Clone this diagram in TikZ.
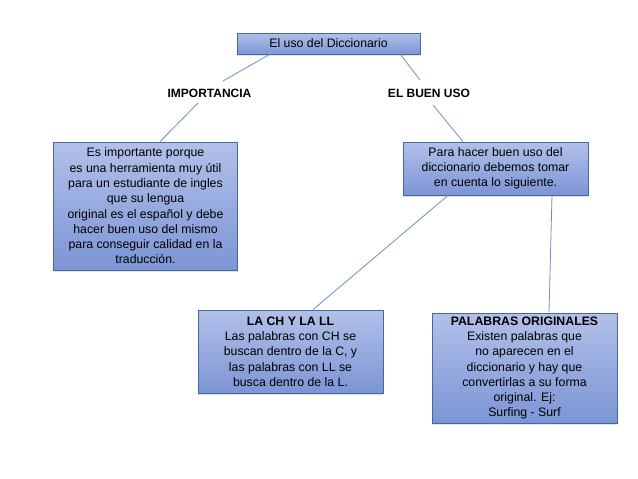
\documentclass[tikz,border=0pt]{standalone}
\usepackage{fontspec}
\setmainfont{Liberation Sans}
\usetikzlibrary{calc,shadows}
\definecolor{boxtop}{RGB}{178,192,233}
\definecolor{boxbot}{RGB}{124,149,213}
\definecolor{boxborder}{RGB}{72,102,160}
\definecolor{linkcol}{RGB}{105,145,195}
\begin{document}
\begin{tikzpicture}[x=1pt,y=-1pt,
  box/.style={rectangle, draw=boxborder, line width=0.8pt, top color=boxtop, bottom color=boxbot,
    align=center, inner sep=0pt, font=\fontsize{12.3}{15.3}\selectfont,
    drop shadow={shadow xshift=0pt, shadow yshift=-2pt, opacity=0.12, fill=black}},
  lbl/.style={font=\bfseries\fontsize{12}{14}\selectfont, inner sep=0pt},
  link/.style={draw=linkcol, line width=0.8pt}]
\useasboundingbox (0,0) rectangle (638,479);

\node[box, minimum width=183pt, minimum height=21pt] (title) at (328.5,43.5) {El uso del Diccionario};
\node[lbl] (imp) at (209.5,93.5) {IMPORTANCIA};
\node[lbl] (buen) at (429,93) {EL BUEN USO};

\node[box, minimum width=184pt, minimum height=128pt] (left) at (145.5,206)
  {Es importante porque\\es una herramienta muy útil\\para un estudiante de ingles\\que su lengua\\original es el español y debe\\hacer buen uso del mismo\\para conseguir calidad en la\\traducción.};
\node[box, minimum width=185pt, minimum height=53pt] (right) at (495.5,168.5)
  {Para hacer buen uso del\\diccionario debemos tomar\\en cuenta lo siguiente.};
\node[box, minimum width=185pt, minimum height=83pt] (lach) at (290.5,351.5)
  {\textbf{LA CH Y LA LL}\\Las palabras con CH se\\buscan dentro de la C, y\\las palabras con LL se\\busca dentro de la L.};
\node[box, minimum width=185pt, minimum height=110pt] (pal) at (524.5,368)
  {\textbf{PALABRAS ORIGINALES}\\Existen palabras que\\no aparecen en el\\diccionario y hay que\\convertirlas a su forma\\original. Ej:\\Surfing - Surf};

\draw[link] ($(title.south west)+(33,0)$) -- ($(imp.center)+(13.5,-12.5)$);
\draw[link] ($(imp.center)+(-11.5,9.5)$) -- ($(left.north)+(14.5,0)$);
\draw[link] ($(title.south east)+(-20,0)$) -- ($(buen.center)+(-9,-13)$);
\draw[link] ($(buen.center)+(4,12)$) -- ($(right.north)+(-32.5,0)$);
\draw[link] ($(right.south)+(-47.5,0)$) -- ($(lach.north)+(22.5,0)$);
\draw[link] ($(right.south)+(56.5,0)$) -- ($(pal.north)+(24.5,0)$);
\end{tikzpicture}
\end{document}
